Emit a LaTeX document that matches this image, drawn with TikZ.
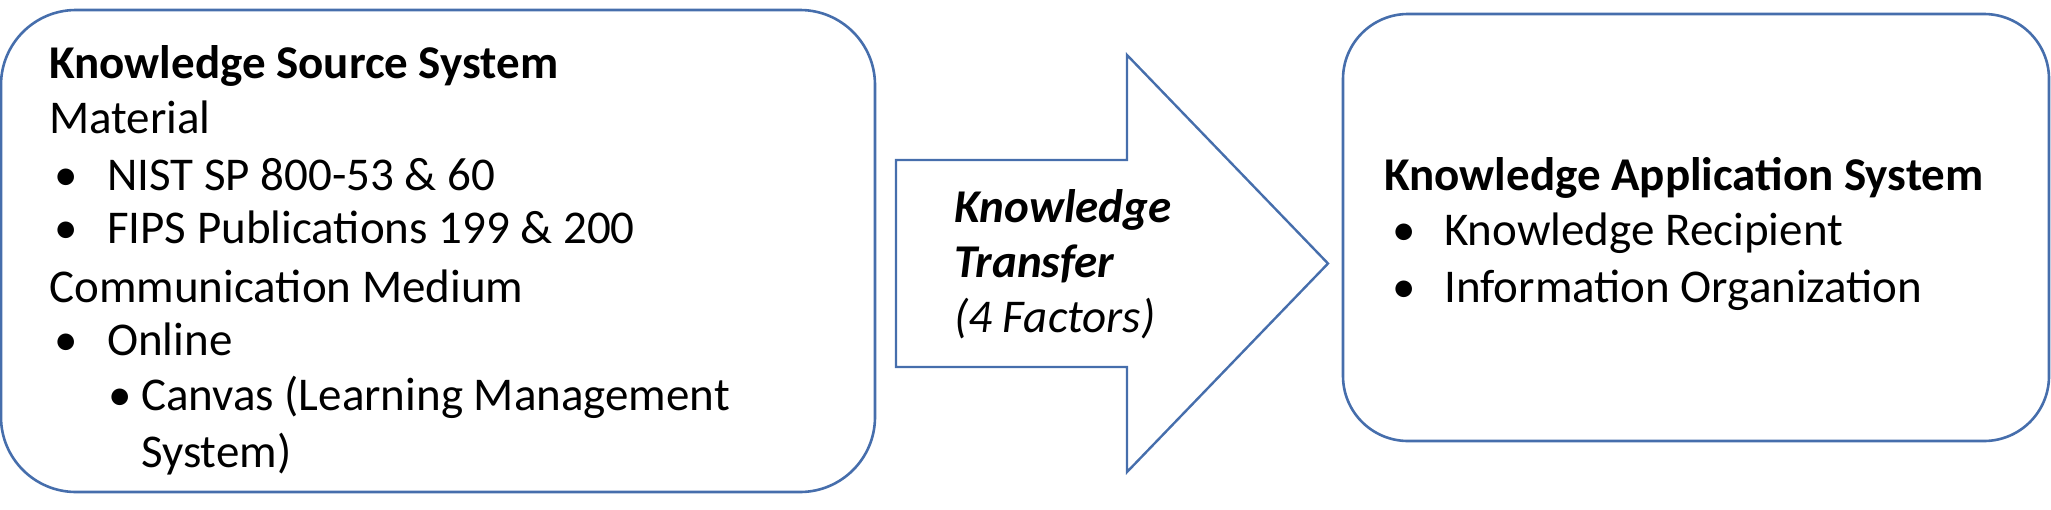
\documentclass[tikz,border=0pt]{standalone}
\usepackage{fontspec}
\setmainfont{Carlito}
\definecolor{edge}{RGB}{70,110,172}
\tikzset{
  box/.style={draw=edge, line width=2.6pt, rounded corners=75pt, inner sep=0pt},
  rbox/.style={box, rounded corners=65pt},
  arrowshape/.style={draw=edge, line width=2.4pt, line join=miter},
  txt/.style={anchor=base west, inner sep=0pt, font=\fontsize{47}{56}\selectfont},
  hd/.style={txt, font=\fontsize{47}{56}\selectfont\bfseries},
  hdi/.style={txt, font=\fontsize{47}{56}\selectfont\bfseries\itshape},
  it/.style={txt, font=\fontsize{47}{56}\selectfont\itshape},
}
\begin{document}
\begin{tikzpicture}[x=1pt,y=-1pt]
\useasboundingbox (0,0) rectangle (2051,509);
% boxes
\node[box, minimum width=874pt, minimum height=482pt] (src) at (438,251) {};
\node[rbox, minimum width=706pt, minimum height=427pt] (app) at (1696,227.5) {};
% arrow
\coordinate (a1) at (896,160);
\coordinate (a2) at (1127,160);
\coordinate (a3) at (1127,55);
\coordinate (tip) at (1328,263.5);
\coordinate (a5) at (1127,472);
\coordinate (a6) at (1127,367);
\coordinate (a7) at (896,367);
\draw[arrowshape] (a1) -- (a2) -- (a3) -- (tip) -- (a5) -- (a6) -- (a7) -- cycle;
% left text
\node[hd] (s0) at (49,78) {Knowledge Source System};
\node[txt] (s1) at (49,133) {Material};
\node[txt] (b1) at (54,190) {•};
\node[txt] (s2) at (107,190) {NIST SP 800-53 \& 60};
\node[txt] (b2) at (54,243) {•};
\node[txt] (s3) at (107,243) {FIPS Publications 199 \& 200};
\node[txt] (s4) at (49,302) {Communication Medium};
\node[txt] (b3) at (54,355) {•};
\node[txt] (s5) at (107,355) {Online};
\node[txt] (b4) at (108,410) {•};
\node[txt] (s6) at (141,410) {Canvas (Learning Management};
\node[txt] (s7) at (141,467) {System)};
% arrow text
\node[hdi] (t1) at (954,222) {Knowledge};
\node[hdi] (t2) at (954,277) {Transfer};
\node[it] (t3) at (954,332) {(4 Factors)};
% right text
\node[hd] (r0) at (1384,190) {Knowledge Application System};
\node[txt] (rb1) at (1392,245) {•};
\node[txt] (r1) at (1444,245) {Knowledge Recipient};
\node[txt] (rb2) at (1392,302) {•};
\node[txt] (r2) at (1444,302) {Information Organization};
\end{tikzpicture}
\end{document}
